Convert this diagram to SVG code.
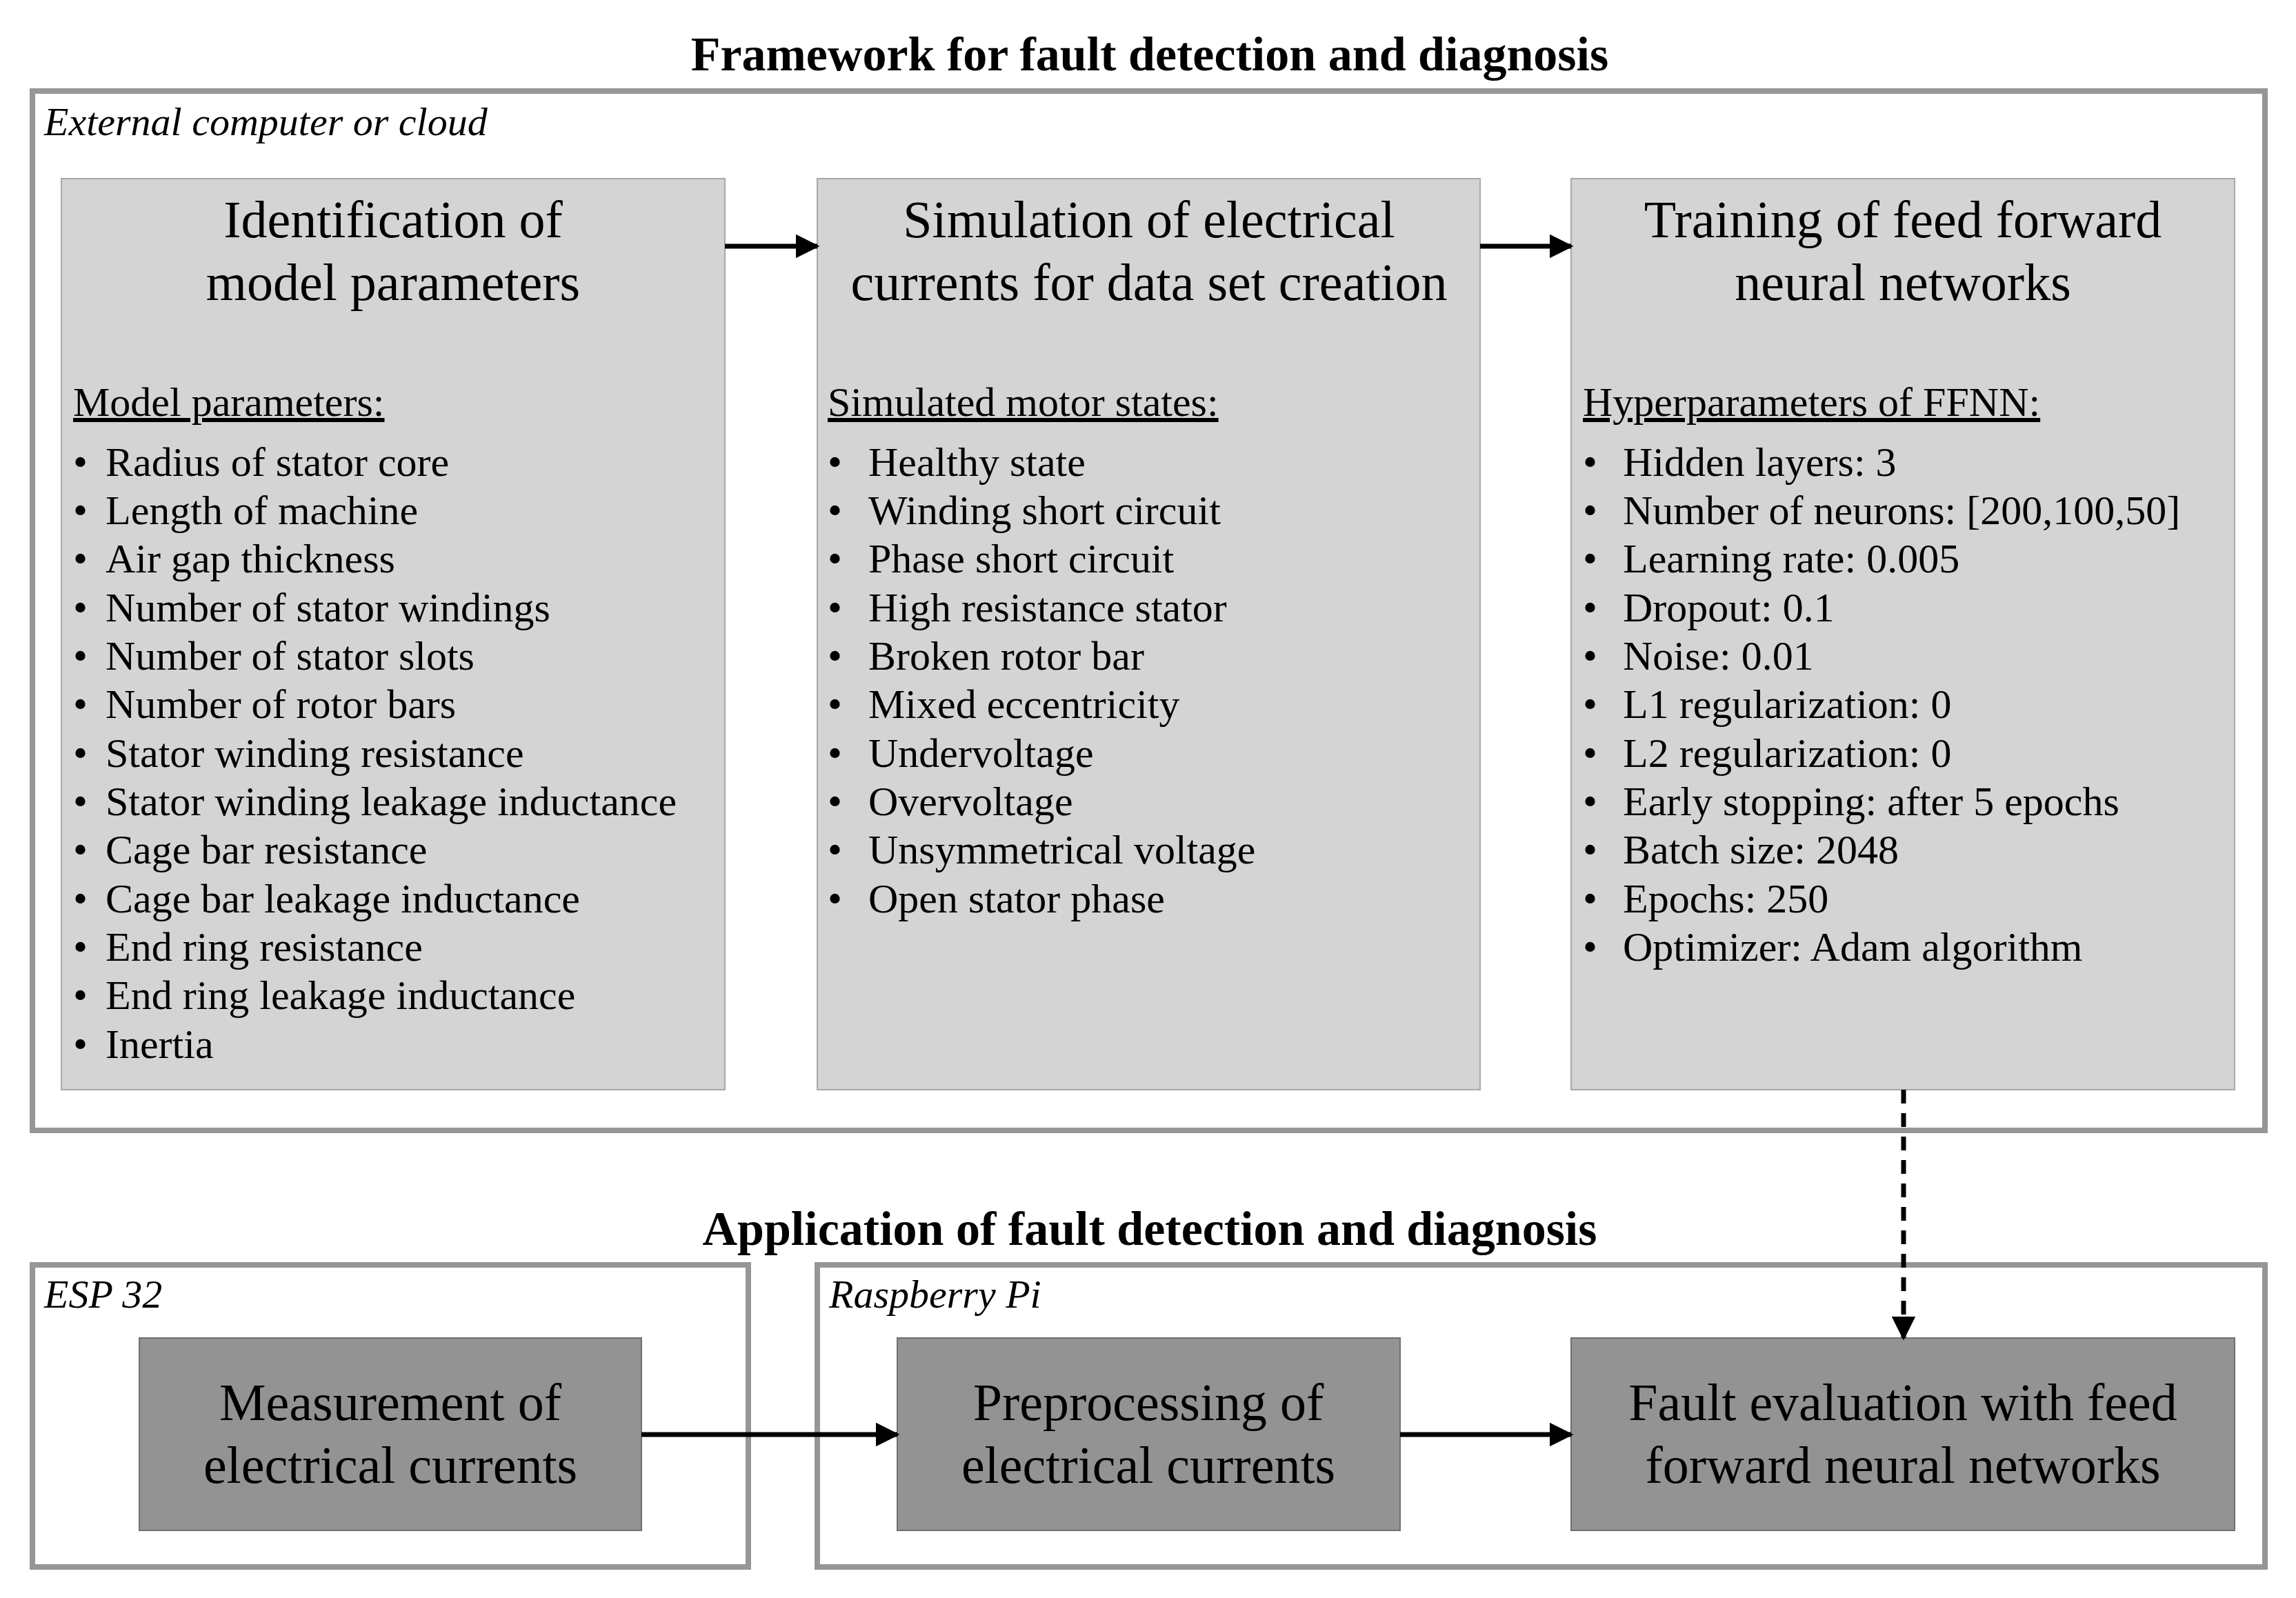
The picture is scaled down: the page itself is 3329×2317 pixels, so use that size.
<svg xmlns="http://www.w3.org/2000/svg" width="3329" height="2317" viewBox="0 0 3329 2317">
<style>
text{font-family:"Liberation Serif","Times New Roman",serif;fill:#000}
.h{font-size:70px;font-weight:bold;text-anchor:middle}
.frame{fill:none;stroke:#969696;stroke-width:8}
.lbl{font-size:58px;font-style:italic}
.lt{fill:#d4d4d4;stroke:#a8a8a8;stroke-width:2}
.dk{fill:#939393;stroke:#707070;stroke-width:2}
.t{font-size:76px;text-anchor:middle}
.s{font-size:60px}
.u{text-decoration:underline}
.c{stroke:#000;stroke-width:7;fill:none}
</style>
<defs><marker id="a" markerWidth="5" markerHeight="5" refX="4.5" refY="2.5" orient="auto" markerUnits="strokeWidth"><path d="M0,0 L5,2.5 L0,5 z" fill="#000"/></marker></defs>
<rect width="3329" height="2317" fill="#fff"/>
<text class="h" x="1667" y="102">Framework for fault detection and diagnosis</text>
<g id="ext"><rect class="frame" x="47" y="132" width="3237" height="1507"/><text class="lbl" x="64" y="196">External computer or cloud</text></g>
<g id="n1"><rect class="lt" x="89" y="259" width="962" height="1321"/>
<text class="t" x="570" y="344">Identification of</text><text class="t" x="570" y="435">model parameters</text>
<text class="s u" x="106" y="603">Model parameters:</text>
<g class="s">
<text x="106" y="690">•</text><text x="153" y="690">Radius of stator core</text>
<text x="106" y="760">•</text><text x="153" y="760">Length of machine</text>
<text x="106" y="830">•</text><text x="153" y="830">Air gap thickness</text>
<text x="106" y="901">•</text><text x="153" y="901">Number of stator windings</text>
<text x="106" y="971">•</text><text x="153" y="971">Number of stator slots</text>
<text x="106" y="1041">•</text><text x="153" y="1041">Number of rotor bars</text>
<text x="106" y="1112">•</text><text x="153" y="1112">Stator winding resistance</text>
<text x="106" y="1182">•</text><text x="153" y="1182">Stator winding leakage inductance</text>
<text x="106" y="1252">•</text><text x="153" y="1252">Cage bar resistance</text>
<text x="106" y="1323">•</text><text x="153" y="1323">Cage bar leakage inductance</text>
<text x="106" y="1393">•</text><text x="153" y="1393">End ring resistance</text>
<text x="106" y="1463">•</text><text x="153" y="1463">End ring leakage inductance</text>
<text x="106" y="1534">•</text><text x="153" y="1534">Inertia</text>
</g></g>
<g id="n2"><rect class="lt" x="1185" y="259" width="961" height="1321"/>
<text class="t" x="1666" y="344">Simulation of electrical</text><text class="t" x="1666" y="435">currents for data set creation</text>
<text class="s u" x="1200" y="603">Simulated motor states:</text>
<g class="s">
<text x="1200" y="690">•</text><text x="1259" y="690">Healthy state</text>
<text x="1200" y="760">•</text><text x="1259" y="760">Winding short circuit</text>
<text x="1200" y="830">•</text><text x="1259" y="830">Phase short circuit</text>
<text x="1200" y="901">•</text><text x="1259" y="901">High resistance stator</text>
<text x="1200" y="971">•</text><text x="1259" y="971">Broken rotor bar</text>
<text x="1200" y="1041">•</text><text x="1259" y="1041">Mixed eccentricity</text>
<text x="1200" y="1112">•</text><text x="1259" y="1112">Undervoltage</text>
<text x="1200" y="1182">•</text><text x="1259" y="1182">Overvoltage</text>
<text x="1200" y="1252">•</text><text x="1259" y="1252">Unsymmetrical voltage</text>
<text x="1200" y="1323">•</text><text x="1259" y="1323">Open stator phase</text>
</g></g>
<g id="n3"><rect class="lt" x="2278" y="259" width="962" height="1321"/>
<text class="t" x="2759" y="344">Training of feed forward</text><text class="t" x="2759" y="435">neural networks</text>
<text class="s u" x="2295" y="603">Hyperparameters of FFNN:</text>
<g class="s">
<text x="2295" y="690">•</text><text x="2353" y="690">Hidden layers: 3</text>
<text x="2295" y="760">•</text><text x="2353" y="760">Number of neurons: [200,100,50]</text>
<text x="2295" y="830">•</text><text x="2353" y="830">Learning rate: 0.005</text>
<text x="2295" y="901">•</text><text x="2353" y="901">Dropout: 0.1</text>
<text x="2295" y="971">•</text><text x="2353" y="971">Noise: 0.01</text>
<text x="2295" y="1041">•</text><text x="2353" y="1041">L1 regularization: 0</text>
<text x="2295" y="1112">•</text><text x="2353" y="1112">L2 regularization: 0</text>
<text x="2295" y="1182">•</text><text x="2353" y="1182">Early stopping: after 5 epochs</text>
<text x="2295" y="1252">•</text><text x="2353" y="1252">Batch size: 2048</text>
<text x="2295" y="1323">•</text><text x="2353" y="1323">Epochs: 250</text>
<text x="2295" y="1393">•</text><text x="2353" y="1393">Optimizer: Adam algorithm</text>
</g></g>
<text class="h" x="1667" y="1805">Application of fault detection and diagnosis</text>
<g id="esp"><rect class="frame" x="47" y="1834" width="1038" height="438"/><text class="lbl" x="64" y="1896">ESP 32</text></g>
<g id="rpi"><rect class="frame" x="1185" y="1834" width="2099" height="438"/><text class="lbl" x="1202" y="1896">Raspberry Pi</text></g>
<g id="n4"><rect class="dk" x="202" y="1940" width="728" height="279"/><text class="t" x="566" y="2059">Measurement of</text><text class="t" x="566" y="2150">electrical currents</text></g>
<g id="n5"><rect class="dk" x="1301" y="1940" width="729" height="279"/><text class="t" x="1665" y="2059">Preprocessing of</text><text class="t" x="1665" y="2150">electrical currents</text></g>
<g id="n6"><rect class="dk" x="2278" y="1940" width="962" height="279"/><text class="t" x="2759" y="2059">Fault evaluation with feed</text><text class="t" x="2759" y="2150">forward neural networks</text></g>
<g id="connectors">
<line class="c" x1="1051" y1="357" x2="1185" y2="357" marker-end="url(#a)"/>
<line class="c" x1="2146" y1="357" x2="2278" y2="357" marker-end="url(#a)"/>
<line class="c" x1="2760" y1="1580" x2="2760" y2="1940" stroke-dasharray="20,14" marker-end="url(#a)"/>
<line class="c" x1="930" y1="2080" x2="1301" y2="2080" marker-end="url(#a)"/>
<line class="c" x1="2030" y1="2080" x2="2278" y2="2080" marker-end="url(#a)"/>
</g>
</svg>
